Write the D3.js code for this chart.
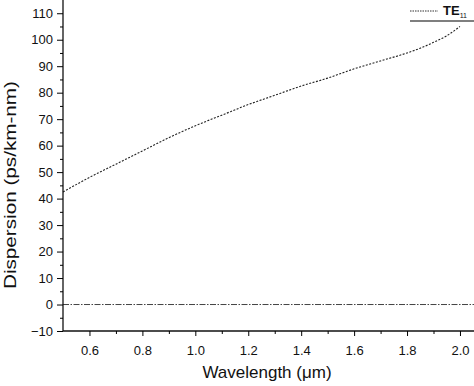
<!DOCTYPE html>
<html>
<head>
<meta charset="utf-8">
<script src="https://cdn.jsdelivr.net/npm/d3@7"></script>
<style>
  body { margin: 0; background: #fff; }
  text { font-family: "Liberation Sans", Arial, sans-serif; fill: #111; }
</style>
</head>
<body>
<script>
// data
var wavelength = [0.5, 0.6, 0.7, 0.8, 0.9, 1.0, 1.1, 1.2, 1.3, 1.4, 1.5, 1.6, 1.7, 1.8, 1.85, 1.9, 1.95, 2.0];
var dispersion = [42.5, 48, 53, 58, 63, 67.5, 71.5, 75.5, 79, 82.5, 85.5, 89, 92, 95, 96.8, 99, 101.5, 105];
var zeroLine = [0, 0];
var xTicks = [0.6, 0.8, 1.0, 1.2, 1.4, 1.6, 1.8, 2.0];
var yTicks = [-10, 0, 10, 20, 30, 40, 50, 60, 70, 80, 90, 100, 110];

var W = 474, H = 386;
var margin = { top: 0, right: 0, bottom: 55, left: 63 };
var width = W - margin.left - margin.right;
var height = 331 - margin.top;

var svg = d3.select('body').append('svg')
  .attr('width', W)
  .attr('height', H);

var g = svg.append('g')
  .attr('transform', `translate(${margin.left}, ${margin.top})`);

var xScale = d3.scaleLinear().domain([0.5, 2.053]).range([0, width]);
var yScale = d3.scaleLinear().domain([-10, 115]).range([height, 0]);

// zero line (dash-dot)
g.append('path')
  .datum(zeroLine.map(function(v, i) { return { x: i === 0 ? 0.5 : 2.053, y: v }; }))
  .attr('fill', 'none')
  .attr('stroke', '#444')
  .attr('stroke-width', 1)
  .attr('stroke-dasharray', '6,1.5,1.5,1.5')
  .attr('d', d3.line().x(function(d) { return xScale(d.x); }).y(function(d) { return yScale(d.y); }));

// dispersion curve (dotted)
var data = wavelength.map(function(w, i) { return { x: w, y: dispersion[i] }; });
g.append('path')
  .datum(data)
  .attr('fill', 'none')
  .attr('stroke', '#222')
  .attr('stroke-width', 1.1)
  .attr('stroke-dasharray', '2,1.5')
  .attr('d', d3.line()
    .x(function(d) { return xScale(d.x); })
    .y(function(d) { return yScale(d.y); })
    .curve(d3.curveMonotoneX));

// y axis
var yAxis = g.append('g')
  .call(d3.axisLeft(yScale).tickValues(yTicks).tickSize(6).tickPadding(4).tickFormat(function(d) { return d < 0 ? '\u2212' + Math.abs(d) : d; }));
yAxis.select('.domain').attr('d', `M0,0V${height}`).attr('stroke', '#111').attr('stroke-width', 1.3);
yAxis.selectAll('text').style('font-size', '13px');
g.append('g')
  .call(d3.axisLeft(yScale).tickValues(d3.range(-5, 115, 10)).tickSize(3).tickFormat(''))
  .select('.domain').remove();

// x axis
var xAxis = g.append('g')
  .attr('transform', `translate(0, ${height})`)
  .call(d3.axisBottom(xScale).tickValues(xTicks).tickSize(5).tickPadding(10).tickFormat(d3.format('.1f')));
xAxis.select('.domain').attr('d', `M0,0H${width}`).attr('stroke', '#111').attr('stroke-width', 1.3);
xAxis.selectAll('text').style('font-size', '13px');
g.append('g')
  .attr('transform', `translate(0, ${height})`)
  .call(d3.axisBottom(xScale).tickValues([0.7, 0.9, 1.1, 1.3, 1.5, 1.7, 1.9]).tickSize(3).tickFormat(''))
  .select('.domain').remove();

// axis labels
svg.append('text')
  .attr('x', 267)
  .attr('y', 378)
  .attr('text-anchor', 'middle')
  .style('font-size', '17px')
  .text('Wavelength (\u03bcm)');

svg.append('text')
  .attr('transform', 'translate(16, 185) rotate(-90)')
  .attr('text-anchor', 'middle')
  .attr('textLength', 208)
  .attr('lengthAdjust', 'spacingAndGlyphs')
  .style('font-size', '17px')
  .text('Dispersion (ps/km-nm)');

// legend
var legend = svg.append('g');
legend.append('line')
  .attr('x1', 410).attr('x2', 438).attr('y1', 11).attr('y2', 11)
  .attr('stroke', '#333').attr('stroke-width', 1).attr('stroke-dasharray', '1.5,1');
var lt = legend.append('text')
  .attr('x', 443).attr('y', 15)
  .style('font-size', '13px')
  .style('font-weight', 'bold')
  .text('TE');
lt.append('tspan')
  .attr('dy', 3)
  .style('font-size', '7px')
  .style('font-weight', 'normal')
  .text('11');
legend.append('line')
  .attr('x1', 410).attr('x2', 474).attr('y1', 21).attr('y2', 21)
  .attr('stroke', '#555').attr('stroke-width', 1.5);
</script>
</body>
</html>
